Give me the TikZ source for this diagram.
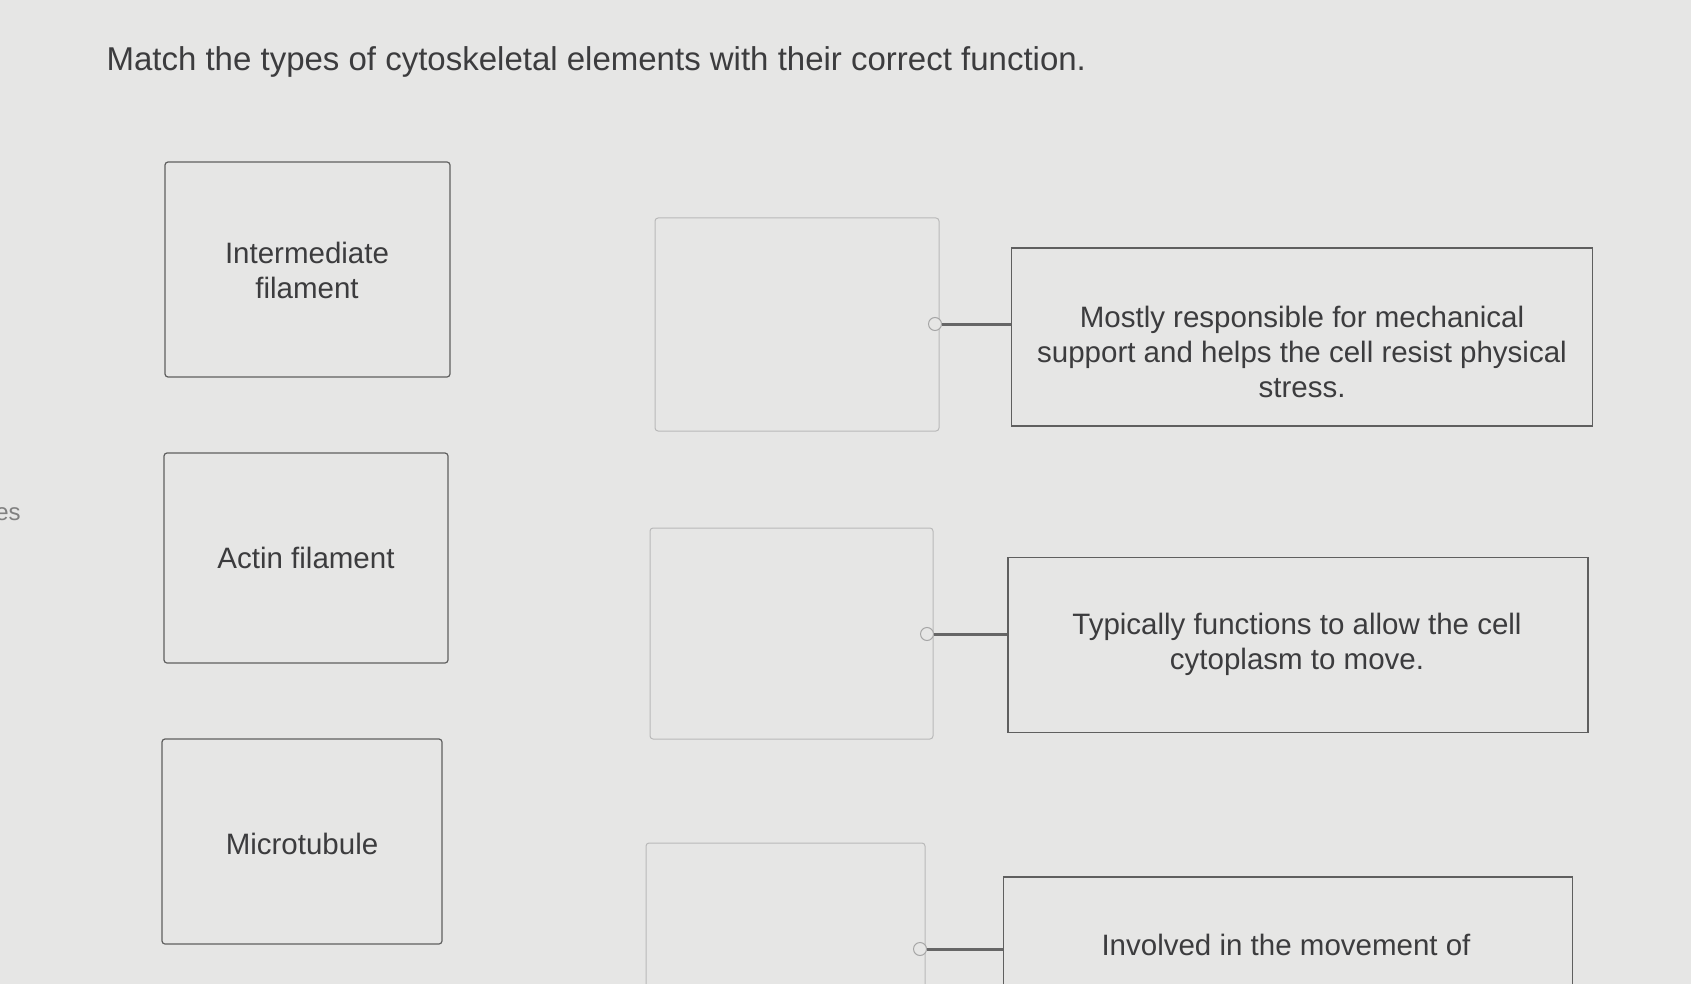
\documentclass[tikz,border=0pt]{standalone}
\usepackage{fontspec}
\setmainfont{Liberation Sans}
\definecolor{screen}{RGB}{230,230,229}
\definecolor{boxline}{RGB}{95,95,95}
\definecolor{ink}{RGB}{60,60,62}
\tikzset{
  cardbox/.style={draw=boxline,line width=1.2pt,rounded corners=3pt},
  slotbox/.style={draw=gray!55,line width=1pt,rounded corners=3pt},
  answerbox/.style={draw=boxline,line width=1.5pt},
  cardtext/.style={text=ink,align=center,font=\fontsize{29.5}{35}\selectfont},
  knob/.style={circle,draw=gray!70,fill=screen,line width=1pt,inner sep=0pt,minimum size=13pt},
  link/.style={draw=gray!80!black,line width=3pt}
}
\begin{document}
\begin{tikzpicture}[x=1pt,y=-1pt]
\fill[screen] (0,0) rectangle (1691,984);
\clip (0,0) rectangle (1691,984);
\node[anchor=west,text=ink,font=\fontsize{33}{36}\selectfont] (title) at (103,62)
  {Match the types of cytoskeletal elements with their correct function.};
\node[text=gray,font=\fontsize{24}{26}\selectfont] (edge) at (8,514) {es};
% cards
\draw[cardbox] (165,162) rectangle (450,377);
\draw[cardbox] (164,453) rectangle (448,663);
\draw[cardbox] (162,739) rectangle (442,944);
\node[cardtext] (inter) at (307,270) {Intermediate\\filament};
\node[cardtext] (actin) at (306,558) {Actin filament};
\node[cardtext] (micro) at (302,844) {Microtubule};
% slots
\draw[slotbox] (655,218) rectangle (939,431);
\draw[slotbox] (650,528) rectangle (933,739);
\draw[slotbox] (646,843) rectangle (925,1000);
% functions
\node[answerbox,minimum width=581pt,minimum height=178pt] (fmech) at (1302,337) {};
\node[answerbox,minimum width=580pt,minimum height=175pt] (fmove) at (1298,645) {};
\node[answerbox,minimum width=569pt,minimum height=160pt,anchor=north] (fcarg) at (1288,876) {};
\node[cardtext] at (1302,352) {Mostly responsible for mechanical\\support and helps the cell resist physical\\stress.};
\node[cardtext] at (1297,644) {Typically functions to allow the cell\\cytoplasm to move.};
\node[cardtext] at (1286,945) {Involved in the movement of};
% connectors
\node[knob] (k1) at (935,324) {};
\node[knob] (k2) at (927,634) {};
\node[knob] (k3) at (920,949) {};
\draw[link] (k1) -- (fmech.west |- k1);
\draw[link] (k2) -- (fmove.west |- k2);
\draw[link] (k3) -- (fcarg.west |- k3);
\end{tikzpicture}
\end{document}
